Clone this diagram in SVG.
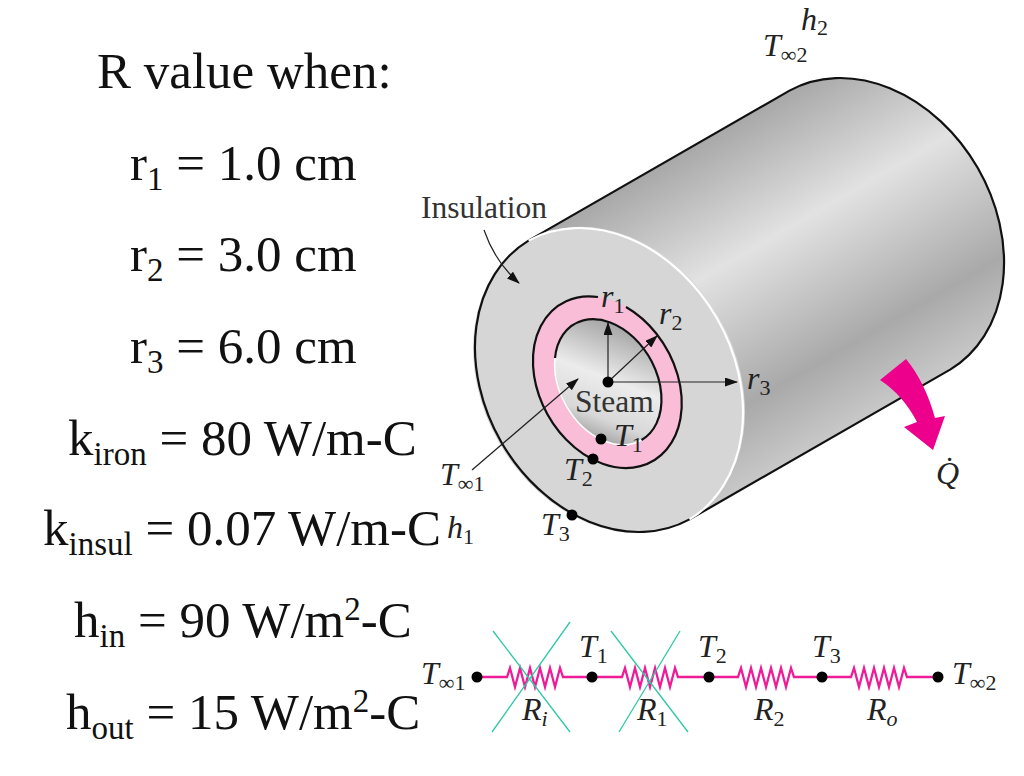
<svg xmlns="http://www.w3.org/2000/svg" width="1024" height="776" viewBox="0 0 1024 776">
<style>
text{font-family:"Liberation Serif","Times New Roman",serif;fill:#111}
.big{font-size:51px}
.lab{font-size:32px;font-style:italic;fill:#222}
.up{font-size:31.5px;fill:#333}
.s{font-size:22px}
.ob{stroke:#111;stroke-width:2.2;fill:none}
.ln{stroke:#222;stroke-width:1.2;fill:none}
.res{stroke:#ee1c97;stroke-width:2.3;fill:none}
.x{stroke:#2fc9a4;stroke-width:1.3;fill:none}
.dot{fill:#000}
</style>
<defs>
<linearGradient id="body" gradientUnits="userSpaceOnUse" x1="789" y1="90" x2="950" y2="369">
<stop offset="0" stop-color="#a8a8a8"/><stop offset=".37" stop-color="#e2e2e2"/><stop offset=".78" stop-color="#a9a9a9"/><stop offset="1" stop-color="#c8c8c8"/>
</linearGradient>
<linearGradient id="hole" gradientUnits="userSpaceOnUse" x1="570" y1="335" x2="650" y2="435">
<stop offset="0" stop-color="#a0a0a0"/><stop offset=".45" stop-color="#ececec"/><stop offset=".75" stop-color="#d8d8d8"/><stop offset="1" stop-color="#909090"/>
</linearGradient>
<marker id="ah" markerWidth="13" markerHeight="9" refX="12" refY="4.5" orient="auto" markerUnits="userSpaceOnUse"><path d="M0,0L13,4.5L0,9Z" fill="#111"/></marker>
</defs>

<g id="cylinder">
<path d="M528.5,240.6L789.5,90.6A161,126.6 60 0 1 950.5,369.4L689.5,519.4Z" fill="url(#body)"/>
<path class="ob" d="M528.5,240.6L789.5,90.6A161,126.6 60 0 1 950.5,369.4L689.5,519.4"/>
<ellipse cx="609" cy="380" rx="161" ry="126.6" transform="rotate(60 609 380)" fill="#d6d6d6"/>
<path d="M528.5,240.6A161,126.6 60 0 1 689.5,519.4" fill="none" stroke="#fff" stroke-width="2.2"/>
<path class="ob" d="M689.5,519.4A161,126.6 60 0 1 528.5,240.6"/>
</g>

<g id="pipe">
<ellipse cx="608" cy="382" rx="91" ry="68" transform="rotate(60 608 382)" fill="#f9bdd8"/>
<ellipse cx="608" cy="382" rx="67" ry="48" transform="rotate(60 608 382)" fill="url(#hole)" stroke="#fff" stroke-width="1.5"/>
<path class="ob" d="M626,307A91,68 60 1 1 598,297"/>
<path class="ob" d="M555,358A67,48 60 1 1 641.5,440"/>
</g>

<g id="connectors">
<path class="ln" marker-end="url(#ah)" d="M608,382V323"/>
<path class="ln" marker-end="url(#ah)" d="M608,382L657,336"/>
<path class="ln" marker-end="url(#ah)" d="M608,382H737"/>
<path class="ln" marker-end="url(#ah)" d="M472,470L578,379"/>
<path class="ln" marker-end="url(#ah)" d="M484,230Q495,262 519,283"/>
<path d="M906,359Q925,382 935,418L945,416L933,450L904,427L917,422Q903,395 880,380Z" fill="#ec008c"/>
<path class="res" d="M477,677H507L510,668L515,687L520,668L525,687L530,668L535,687L540,668L545,687L550,668L555,687L560,668L563,677H592"/>
<path class="res" d="M592,677H622L625,668L630,687L635,668L640,687L645,668L650,687L655,668L660,687L665,668L670,687L675,668L678,677H709"/>
<path class="res" d="M709,677H738L741,668L746,687L751,668L756,687L761,668L766,687L771,668L776,687L781,668L786,687L791,668L794,677H822"/>
<path class="res" d="M822,677H851L854,668L859,687L864,668L869,687L874,668L879,687L884,668L889,687L894,668L899,687L904,668L907,677H938"/>
<path class="x" d="M493,631L570,732M492,732L570,622"/>
<path class="x" d="M611,631L688,732M619,732L680,631"/>
</g>

<g id="dots">
<circle class="dot" cx="608" cy="382" r="5.5"/><circle class="dot" cx="601" cy="439" r="5.5"/><circle class="dot" cx="593" cy="459" r="5.5"/><circle class="dot" cx="572" cy="515" r="5.5"/>
<circle class="dot" cx="477" cy="677" r="5.5"/><circle class="dot" cx="592" cy="677" r="5.5"/><circle class="dot" cx="709" cy="677" r="5.5"/><circle class="dot" cx="822" cy="677" r="5.5"/><circle class="dot" cx="938" cy="677" r="5.5"/>
</g>

<g id="values">
<text class="big" x="97" y="88">R value when:</text>
<text class="big" x="130" y="180">r<tspan dy="10" font-size="33">1</tspan><tspan dy="-10"> = 1.0 cm</tspan></text>
<text class="big" x="130" y="271">r<tspan dy="10" font-size="33">2</tspan><tspan dy="-10"> = 3.0 cm</tspan></text>
<text class="big" x="130" y="363">r<tspan dy="10" font-size="33">3</tspan><tspan dy="-10"> = 6.0 cm</tspan></text>
<text class="big" x="68" y="455">k<tspan dy="10" font-size="33">iron</tspan><tspan dy="-10"> = 80 W/m-C</tspan></text>
<text class="big" x="43" y="545">k<tspan dy="10" font-size="33">insul</tspan><tspan dy="-10"> = 0.07 W/m-C</tspan></text>
<text class="big" x="74" y="637">h<tspan dy="10" font-size="33">in</tspan><tspan dy="-10"> = 90 W/m</tspan><tspan dy="-17" font-size="33">2</tspan><tspan dy="17">-C</tspan></text>
<text class="big" x="66" y="729">h<tspan dy="10" font-size="33">out</tspan><tspan dy="-10"> = 15 W/m</tspan><tspan dy="-17" font-size="33">2</tspan><tspan dy="17">-C</tspan></text>
</g>

<g id="labels">
<text class="up" x="421" y="218">Insulation</text>
<text class="up" x="575" y="412">Steam</text>
<text class="lab" x="801" y="30">h<tspan class="s" dy="5" font-style="normal">2</tspan></text>
<text class="lab" x="763" y="56">T<tspan class="s" dy="6" font-style="normal">∞2</tspan></text>
<text class="lab" x="601" y="307">r<tspan class="s" dy="6" font-style="normal">1</tspan></text>
<text class="lab" x="659" y="324">r<tspan class="s" dy="6" font-style="normal">2</tspan></text>
<text class="lab" x="747" y="389">r<tspan class="s" dy="6" font-style="normal">3</tspan></text>
<text class="lab" x="614" y="446">T<tspan class="s" dy="6" font-style="normal">1</tspan></text>
<text class="lab" x="564" y="480">T<tspan class="s" dy="6" font-style="normal">2</tspan></text>
<text class="lab" x="541" y="535">T<tspan class="s" dy="6" font-style="normal">3</tspan></text>
<text class="lab" x="440" y="485">T<tspan class="s" dy="6" font-style="normal">∞1</tspan></text>
<text class="lab" x="447" y="538">h<tspan class="s" dy="6" font-style="normal">1</tspan></text>
<text class="lab" x="936" y="484">Q&#x307;</text>
<text class="lab" x="421" y="684">T<tspan class="s" dy="6" font-style="normal">∞1</tspan></text>
<text class="lab" x="579" y="657">T<tspan class="s" dy="6" font-style="normal">1</tspan></text>
<text class="lab" x="698" y="657">T<tspan class="s" dy="6" font-style="normal">2</tspan></text>
<text class="lab" x="812" y="657">T<tspan class="s" dy="6" font-style="normal">3</tspan></text>
<text class="lab" x="952" y="684">T<tspan class="s" dy="6" font-style="normal">∞2</tspan></text>
<text class="lab" x="522" y="720">R<tspan class="s" dy="6">i</tspan></text>
<text class="lab" x="637" y="720">R<tspan class="s" dy="6" font-style="normal">1</tspan></text>
<text class="lab" x="754" y="720">R<tspan class="s" dy="6" font-style="normal">2</tspan></text>
<text class="lab" x="867" y="720">R<tspan class="s" dy="6">o</tspan></text>
</g>
</svg>
